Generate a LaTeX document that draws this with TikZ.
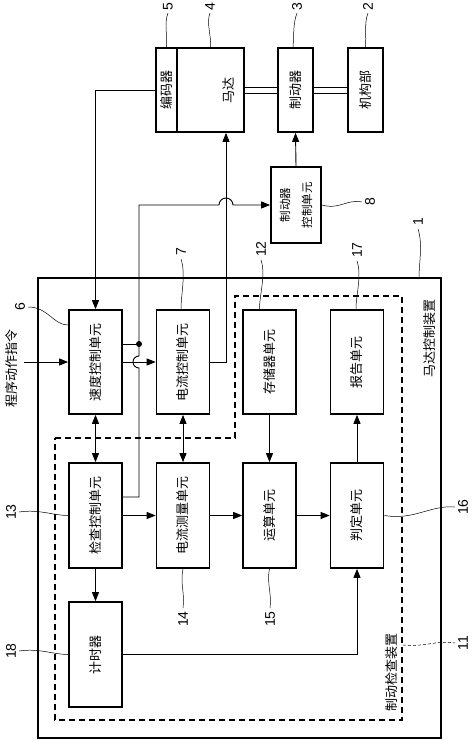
\documentclass[tikz,border=0pt]{standalone}
\usepackage{fontspec}
\setmainfont{Liberation Sans}
\newfontfamily\cjk{Noto Sans CJK SC}
\usetikzlibrary{arrows.meta,calc}
\begin{document}
\begin{tikzpicture}[x=1pt,y=-1pt,
  boxst/.style={draw, line width=1.7pt, inner sep=0pt},
  conn/.style={line width=0.9pt},
  arr/.style={line width=0.9pt, -{Triangle[length=9pt,width=7pt]}},
  darr/.style={line width=0.9pt, {Triangle[length=9pt,width=7pt]}-{Triangle[length=9pt,width=7pt]}},
  lead/.style={line width=0.5pt},
  num/.style={rotate=90, inner sep=0pt, font=\fontsize{14}{14}\selectfont},
  txt/.style={rotate=90, inner sep=0pt, font=\cjk\fontsize{13}{15}\selectfont},
  stxt/.style={rotate=90, inner sep=0pt, align=center, font=\cjk\fontsize{11.5}{22}\selectfont}
]
\useasboundingbox (0,0) rectangle (474,741);
\fill[white] (0,0) rectangle (474,741);

% top row
\node[boxst, minimum width=21pt, minimum height=84pt] (enc) at (166.5,90) {};
\node[boxst, minimum width=67pt, minimum height=84pt] (motor) at (210.5,90) {};
\node[boxst, minimum width=35pt, minimum height=84pt] (brake) at (295.5,90) {};
\node[boxst, minimum width=35pt, minimum height=84pt] (mech) at (365.5,90) {};
\node[boxst, minimum width=50pt, minimum height=76pt] (bctrl) at (296,205) {};
\node[txt] (tenc) at (enc) {编码器};
\node[txt] (tmot) at (229,90) {马达};
\node[txt] (tbrk) at (brake) {制动器};
\node[txt] (tmech) at (mech) {机构部};
\node[stxt] (tbc) at (bctrl) {制动器\\控制单元};

% outer and dashed boxes
\node[boxst, minimum width=403pt, minimum height=460pt] (outer) at (239.5,508) {};
\draw[line width=1.5pt, dash pattern=on 6pt off 4pt] (55,438) -- (235,438) -- (235,296) -- (402,296) -- (402,720) -- (55,720) -- cycle;

% inner boxes
\node[boxst, minimum width=53pt, minimum height=104pt] (sc) at (95.5,362) {};
\node[boxst, minimum width=53pt, minimum height=104pt] (cc) at (183,362) {};
\node[boxst, minimum width=53pt, minimum height=104pt] (mem) at (269.5,362) {};
\node[boxst, minimum width=53pt, minimum height=104pt] (rep) at (357,362) {};
\node[boxst, minimum width=53pt, minimum height=105pt] (ic) at (95.5,515.5) {};
\node[boxst, minimum width=53pt, minimum height=105pt] (cm) at (183,515.5) {};
\node[boxst, minimum width=53pt, minimum height=105pt] (calc) at (269.5,515.5) {};
\node[boxst, minimum width=53pt, minimum height=105pt] (judge) at (357,515.5) {};
\node[boxst, minimum width=53pt, minimum height=105pt] (timer) at (95.5,654.5) {};

\node[txt] (tsc) at (sc) {速度控制单元};
\node[txt] (tcc) at (cc) {电流控制单元};
\node[txt] (tmem) at (mem) {存储器单元};
\node[txt] (trep) at (rep) {报告单元};
\node[txt] (tic) at (ic) {检查控制单元};
\node[txt] (tcm) at (cm) {电流测量单元};
\node[txt] (tcalc) at (calc) {运算单元};
\node[txt] (tjud) at (judge) {判定单元};
\node[txt] (ttim) at (timer) {计时器};

\node[txt] (tcmd) at (12,368) {程序动作指令};
\node[txt] (tmcd) at (430,338) {马达控制装置};
\node[txt] (tbid) at (392,672) {制动检查装置};

% shafts
\draw[conn] ([yshift=3pt]motor.east) -- ([yshift=3pt]brake.west);
\draw[conn] ([yshift=-3pt]motor.east) -- ([yshift=-3pt]brake.west);
\draw[conn] ([yshift=3pt]brake.east) -- ([yshift=3pt]mech.west);
\draw[conn] ([yshift=-3pt]brake.east) -- ([yshift=-3pt]mech.west);

% connectors
\coordinate (cmd) at (24,362);
\coordinate (dot) at (139,344);
\coordinate (v1) at (139,497);
\coordinate (v2) at (139,205);
\draw[arr] (enc.west) -| (sc.north);
\draw[arr] (cmd) -- (sc.west);
\draw[conn] (sc.east |- dot) -- (dot);
\fill (dot) circle (3pt);
\draw[arr] (sc.east) -- (cc.west);
\draw[arr] (ic.east |- v1) -- (v1) -- (139,368) arc[start angle=270,end angle=90,radius=6pt] -- (v2) -- (219,205) arc[start angle=180,end angle=0,radius=7pt] -- (bctrl.west);
\draw[arr] (cc.east) -| ([xshift=15.5pt]motor.south);
\draw[arr] (bctrl.north) -- (brake.south);
\draw[darr] (sc.south) -- (ic.north);
\draw[darr] (cc.south) -- (cm.north);
\draw[arr] (mem.south) -- (calc.north);
\draw[arr] (judge.north) -- (rep.south);
\draw[arr] (ic.east) -- (cm.west);
\draw[arr] (cm.east) -- (calc.west);
\draw[arr] (calc.east) -- (judge.west);
\draw[arr] (ic.south) -- (timer.north);
\draw[arr] (timer.east) -| (judge.south);

% reference numbers
\node[num] (l5) at (168,7) {5};
\node[num] (l4) at (210,7) {4};
\node[num] (l3) at (297,7) {3};
\node[num] (l2) at (368,7) {2};
\node[num] (l8) at (370,202) {8};
\node[num] (l1) at (418,222) {1};
\node[num] (l7) at (181,252) {7};
\node[num] (l12) at (261,249) {12};
\node[num] (l17) at (357,250) {17};
\node[num] (l6) at (20,307) {6};
\node[num] (l13) at (11,512) {13};
\node[num] (l18) at (11,651) {18};
\node[num] (l14) at (183,619) {14};
\node[num] (l15) at (270,619) {15};
\node[num] (l16) at (463,507) {16};
\node[num] (l11) at (463,643) {11};

\coordinate (c1) at (419,278);
\coordinate (c11) at (403,645);
\draw[lead] ([yshift=-2pt]l5.west) .. controls +(-4,10) and +(1,-12) .. (enc.north);
\draw[lead] ([yshift=-2pt]l4.west) .. controls +(-4,10) and +(1,-12) .. (motor.north);
\draw[lead] ([yshift=-2pt]l3.west) .. controls +(-4,10) and +(1,-12) .. ([xshift=-2.5pt]brake.north);
\draw[lead] ([yshift=-2pt]l2.west) .. controls +(-4,10) and +(1,-12) .. (mech.north);
\draw[lead] (bctrl.east) .. controls +(18,5) and +(-16,-3) .. ([xshift=-3pt]l8.north);
\draw[lead] ([yshift=-3pt]l1.west) .. controls +(5,15) and +(0,-15) .. (c1);
\draw[lead] ([yshift=-3pt]l7.west) .. controls +(5,15) and +(0,-15) .. ([xshift=-2pt]cc.north);
\draw[lead] ([yshift=-3pt]l12.west) .. controls +(5,15) and +(0,-15) .. ([xshift=-10pt]mem.north);
\draw[lead] ([yshift=-3pt]l17.west) .. controls +(5,15) and +(0,-15) .. ([xshift=-1pt]rep.north);
\draw[lead] ([xshift=3pt]l6.south) .. controls +(20,0) and +(-15,0) .. ([yshift=37pt]sc.west);
\draw[lead] ([xshift=3pt]l13.south) .. controls +(20,-3) and +(-15,0) .. (ic.west);
\draw[lead] ([xshift=3pt]l18.south) .. controls +(20,-3) and +(-15,0) .. (timer.west);
\draw[lead] (cm.south) .. controls +(-3,15) and +(2,-15) .. ([yshift=3pt]l14.east);
\draw[lead] (calc.south) .. controls +(-3,15) and +(2,-15) .. ([yshift=3pt]l15.east);
\draw[lead] (judge.east) .. controls +(30,5) and +(-25,-2) .. ([xshift=-3pt]l16.north);
\draw[lead, dash pattern=on 3pt off 2pt] (c11) .. controls +(25,2) and +(-20,-3) .. ([xshift=-3pt]l11.north);
\end{tikzpicture}
\end{document}
